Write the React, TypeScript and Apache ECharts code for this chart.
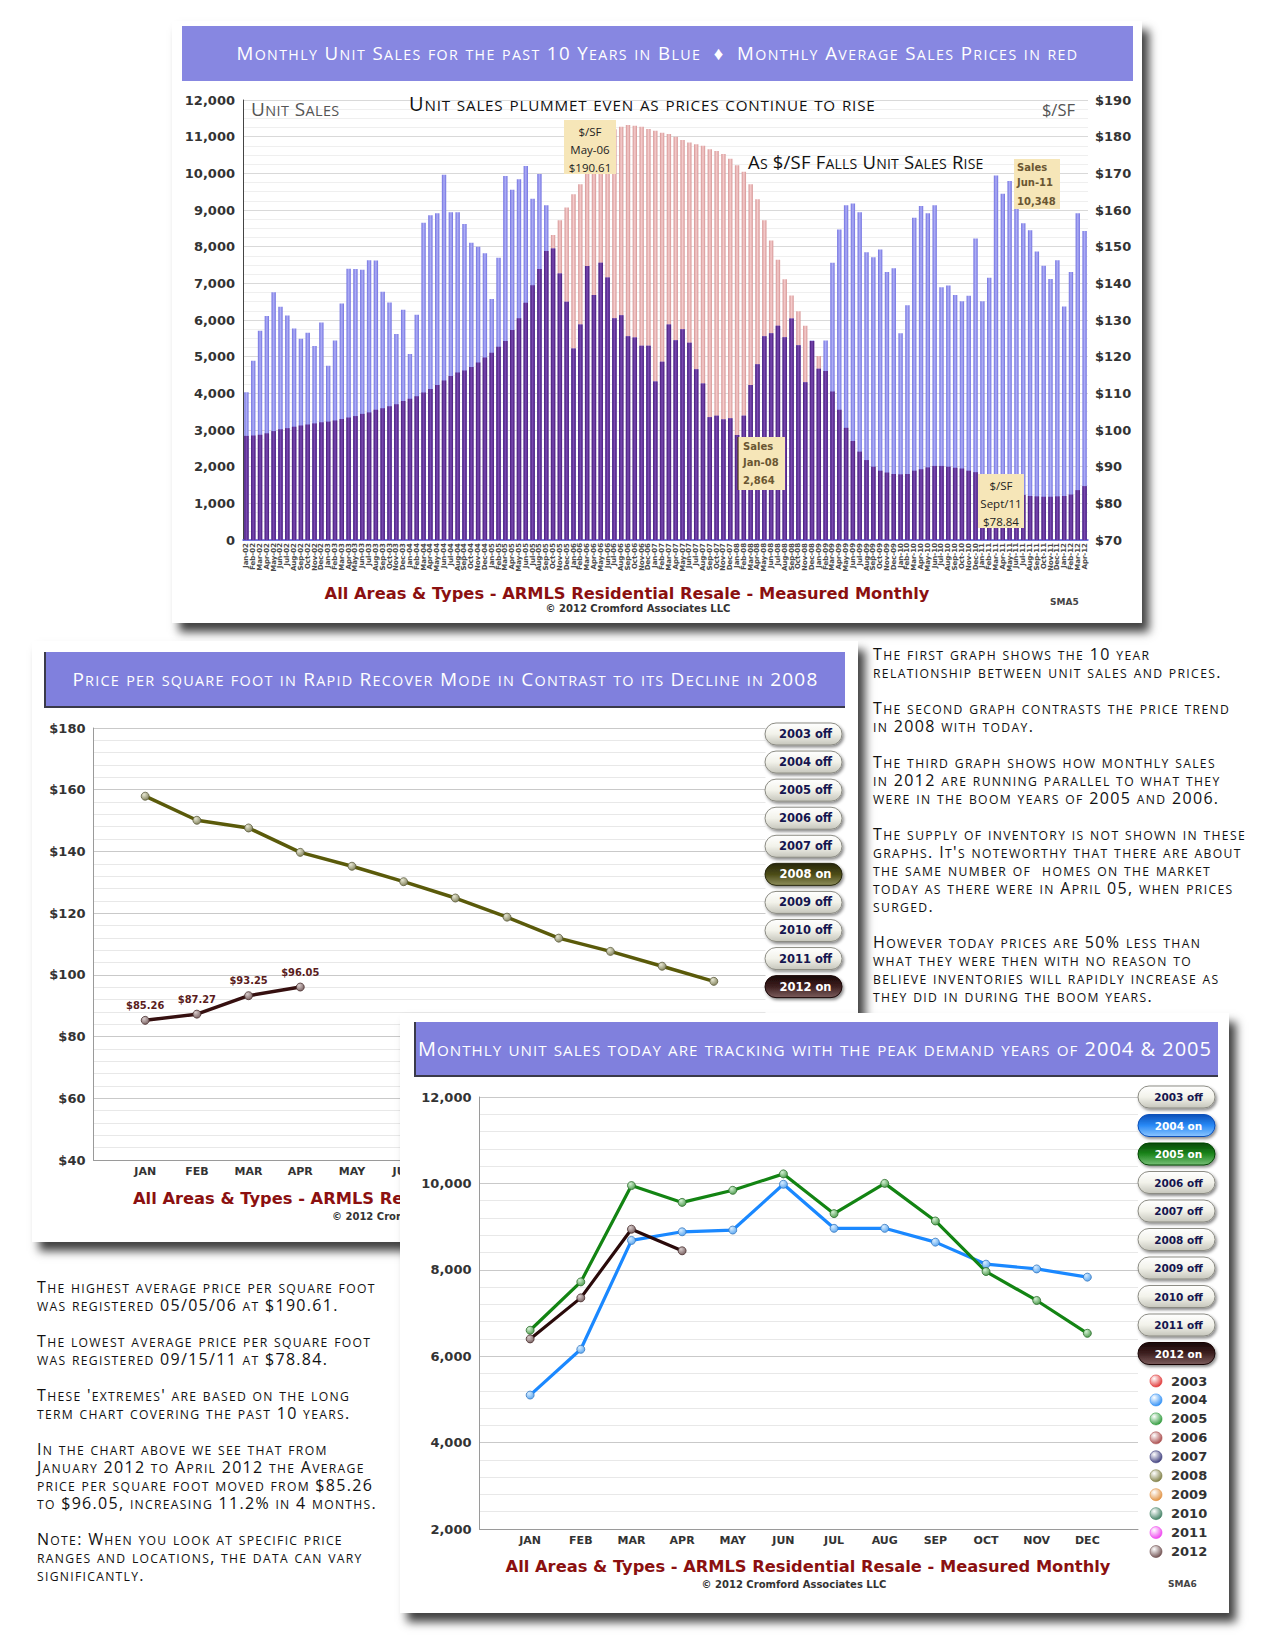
import React, { useEffect, useRef } from "react";
import * as echarts from "echarts";

// ---------------- DATA ----------------
const MONTH_NAMES = ["Jan", "Feb", "Mar", "Apr", "May", "Jun", "Jul", "Aug", "Sep", "Oct", "Nov", "Dec"];
const YEAR_SUFFIXES = ["02", "03", "04", "05", "06", "07", "08", "09", "10", "11", "12"];
const monthCategories = YEAR_SUFFIXES.flatMap((y) => MONTH_NAMES.map((m) => `${m}-${y}`)).slice(0, 124);

const unitSales = [
  4030, 4890, 5710, 6110, 6760, 6360, 6120, 5770, 5490, 5650, 5290, 5930,
  4750, 5440, 6450, 7400, 7390, 7370, 7630, 7620, 6770, 6480, 5620, 6280,
  5070, 6140, 8650, 8860, 8910, 9960, 8940, 8940, 8620, 8110, 8000, 7820,
  6570, 7700, 9930, 9550, 9840, 10200, 9310, 9980, 9130, 7950, 7270, 6500,
  5220, 5880, 7470, 6680, 7560, 7160, 6050, 6130, 5560, 5520, 5300, 5300,
  4320, 4860, 5880, 5450, 5750, 5380, 4660, 4270, 3350, 3390, 3290, 3320,
  2864, 3390, 4230, 4790, 5560, 5640, 5840, 5530, 6040, 5310, 4300, 5440,
  4670, 5440, 7560, 8470, 9130, 9180, 8940, 7850, 7710, 7920, 7310, 7410,
  5640, 6400, 8790, 9110, 8910, 9130, 6890, 6940, 6680, 6510, 6660, 8220,
  6510, 7150, 9940, 9440, 9790, 10348, 8640, 8450, 7870, 7480, 7120, 7630,
  6370, 7310, 8910, 8430,
];

const pricePerSF = [
  98.4, 98.5, 98.7, 99.1, 99.7, 100.2, 100.5, 100.9, 101.2, 101.5, 101.8, 102.1,
  102.3, 102.6, 103.0, 103.4, 103.8, 104.4, 104.8, 105.5, 105.9, 106.5, 107.0, 107.9,
  108.5, 109.2, 110.2, 111.2, 112.3, 113.5, 114.7, 115.7, 116.2, 117.2, 118.4, 119.8,
  121.1, 122.7, 124.3, 127.3, 130.5, 134.7, 139.5, 143.9, 148.8, 153.2, 157.2, 160.7,
  164.3, 167.0, 170.5, 173.8, 176.8, 179.5, 182.0, 182.7, 183.2, 183.0, 182.7, 182.1,
  181.6, 181.1, 180.7, 180.0, 179.1, 178.4, 177.9, 177.5, 176.6, 176.1, 175.3, 174.0,
  172.2, 170.4, 167.0, 162.9, 157.2, 151.7, 146.4, 141.1, 136.7, 132.4, 128.4, 124.3,
  120.2, 116.1, 110.5, 105.5, 100.6, 97.0, 94.1, 91.8, 90.0, 88.9, 88.4, 88.0,
  87.9, 88.0, 88.9, 89.3, 89.8, 90.2, 90.2, 90.0, 89.7, 89.5, 88.9, 88.5,
  87.7, 86.4, 85.0, 84.1, 83.2, 82.7, 82.3, 82.0, 81.9, 81.8, 81.8, 81.9,
  82.0, 82.4, 83.6, 84.7,
];

const MONTH_ABBR = ["JAN", "FEB", "MAR", "APR", "MAY", "JUN", "JUL", "AUG", "SEP", "OCT", "NOV", "DEC"];
const price2008 = [157.9, 150.1, 147.6, 139.7, 135.2, 130.2, 124.9, 118.7, 111.9, 107.6, 102.8, 97.9];
const price2012 = [85.26, 87.27, 93.25, 96.05];

const sales2004 = [5100, 6160, 8680, 8880, 8920, 9980, 8960, 8960, 8640, 8130, 8020, 7830];
const sales2005 = [6600, 7720, 9950, 9560, 9840, 10220, 9300, 10000, 9130, 7960, 7290, 6530];
const sales2012 = [6400, 7350, 8940, 8440];

const priceButtons = ["2003 off", "2004 off", "2005 off", "2006 off", "2007 off", "2008 on", "2009 off", "2010 off", "2011 off", "2012 on"];
const salesButtons = ["2003 off", "2004 on", "2005 on", "2006 off", "2007 off", "2008 off", "2009 off", "2010 off", "2011 off", "2012 on"];
const legendYears = ["2003", "2004", "2005", "2006", "2007", "2008", "2009", "2010", "2011", "2012"];
const legendColors = ["#e03535", "#2f8ff5", "#2e9a3a", "#a84848", "#3c3c7c", "#7e7e44", "#e09040", "#3f7f62", "#ee40ee", "#6e4e4e"];

const rightNotes = [
  ["The first graph shows the 10 year", "relationship between unit sales and prices."],
  ["The second graph contrasts the price trend", "in 2008 with today."],
  ["The third graph shows how monthly sales", "in 2012 are running parallel to what they", "were in the boom years of 2005 and 2006."],
  ["The supply of inventory is not shown in these", "graphs. It's noteworthy that there are about", "the same number of  homes on the market", "today as there were in April 05, when prices", "surged."],
  ["However today prices are 50% less than", "what they were then with no reason to", "believe inventories will rapidly increase as", "they did in during the boom years."],
];
const leftNotes = [
  ["The highest average price per square foot", "was registered 05/05/06 at $190.61."],
  ["The lowest average price per square foot", "was registered 09/15/11 at $78.84."],
  ["These 'extremes' are based on the long", "term chart covering the past 10 years."],
  ["In the chart above we see that from", "January 2012 to April 2012 the Average", "price per square foot moved from $85.26", "to $96.05, increasing 11.2% in 4 months."],
  ["Note: When you look at specific price", "ranges and locations, the data can vary", "significantly."],
];

// ---------------- HELPERS ----------------
const AXIS_FONT = "DejaVu Sans";
const TITLE_RED = "#8b1010";

const hGrad = (edge: string, mid: string) =>
  new echarts.graphic.LinearGradient(0, 0, 1, 0, [
    { offset: 0, color: edge },
    { offset: 0.5, color: mid },
    { offset: 1, color: edge },
  ]);
const vGrad = (stops: string[]) =>
  new echarts.graphic.LinearGradient(
    0, 0, 0, 1,
    stops.map((c, i) => ({ offset: i / (stops.length - 1), color: c }))
  );
const ball = (light: string, dark: string) =>
  new echarts.graphic.RadialGradient(0.35, 0.3, 0.75, [
    { offset: 0, color: light },
    { offset: 1, color: dark },
  ]);

const pad = (arr: number[]) => {
  const out: (number | null)[] = [null];
  for (let i = 0; i < 12; i++) out.push(i < arr.length ? arr[i] : null);
  out.push(null);
  return out;
};

const ON_STYLES: Record<string, string[]> = {
  "2008 on": ["#26260a", "#4c4c18", "#8e8e5c"],
  "2012 on": ["#180606", "#3e2020", "#7c5c5c"],
  "2004 on": ["#0a4fb8", "#2a8af6", "#8cc6ff"],
  "2005 on": ["#064806", "#1c861c", "#78c078"],
};

function makeButtons(labels: string[], x: number, y0: number, step: number, w: number, h: number, fs: number) {
  return labels.map((label, i) => {
    const cy = y0 + i * step;
    const on = ON_STYLES[label];
    return {
      type: "group",
      z: 10,
      children: [
        {
          type: "rect",
          z: 10,
          shape: { x, y: cy - h / 2, width: w, height: h, r: h / 2 },
          style: {
            fill: on ? vGrad(on) : vGrad(["#ffffff", "#f2f2ea", "#c6c6bc"]),
            stroke: on ? on[0] : "#8c8c84",
            lineWidth: 1,
            shadowBlur: 3,
            shadowOffsetX: 1.5,
            shadowOffsetY: 2,
            shadowColor: "rgba(0,0,0,0.45)",
          },
        },
        {
          type: "text",
          z: 11,
          x: x + w / 2 + 2,
          y: cy,
          style: {
            text: label,
            fill: on ? "#ffffff" : "#15154f",
            font: `bold ${fs}px "${AXIS_FONT}"`,
            align: "center",
            verticalAlign: "middle",
            textAlign: "center",
            textVerticalAlign: "middle",
          },
        },
      ],
    };
  });
}

const txt = (x: number, y: number, text: string, font: string, fill: string, align = "left") => ({
  type: "text",
  z: 20,
  x,
  y,
  style: {
    text,
    font,
    fill,
    align,
    verticalAlign: "middle",
    textAlign: align,
    textVerticalAlign: "middle",
  },
});
const box = (x: number, y: number, width: number, height: number) => ({
  type: "rect",
  z: 19,
  shape: { x, y, width, height },
  style: { fill: "#f6e6b8" },
});

// ---------------- OPTIONS ----------------
const overlap = unitSales.map((s, i) => Math.min(s, (pricePerSF[i] - 70) * 100));

const topOption: any = {
  animation: false,
  grid: { left: 71, right: 54, top: 79, bottom: 83 },
  xAxis: {
    type: "category",
    data: monthCategories,
    axisTick: { show: false },
    axisLine: { lineStyle: { color: "#5050e0", width: 1.5 } },
    axisLabel: { rotate: 90, interval: 0, fontSize: 7, fontWeight: "bold", fontFamily: AXIS_FONT, color: "#4a4a4a", margin: 3 },
  },
  yAxis: [
    {
      type: "value",
      min: 0,
      max: 12000,
      interval: 1000,
      axisLine: { show: true, lineStyle: { color: "#444" } },
      axisTick: { show: false },
      axisLabel: {
        formatter: (v: number) => v.toLocaleString("en-US"),
        fontSize: 13,
        fontWeight: "bold",
        fontFamily: AXIS_FONT,
        color: "#333",
        margin: 8,
      },
      splitLine: { lineStyle: { color: "#d9d9d9" } },
      minorTick: { show: false, splitNumber: 4 },
      minorSplitLine: { show: true, lineStyle: { color: "#efefef" } },
    },
    {
      type: "value",
      min: 70,
      max: 190,
      interval: 10,
      position: "right",
      axisLine: { show: false },
      axisTick: { show: false },
      axisLabel: { formatter: "${value}", fontSize: 13, fontWeight: "bold", fontFamily: AXIS_FONT, color: "#333", margin: 7 },
      splitLine: { show: false },
    },
  ],
  series: [
    { type: "bar", yAxisIndex: 1, data: pricePerSF, barWidth: "64%", barGap: "-100%", itemStyle: { color: hGrad("#d69494", "#f4cccc") } },
    { type: "bar", yAxisIndex: 0, data: unitSales, barWidth: "64%", barGap: "-100%", itemStyle: { color: hGrad("#7070e0", "#aeaef5") } },
    { type: "bar", yAxisIndex: 0, data: overlap, barWidth: "64%", barGap: "-100%", itemStyle: { color: hGrad("#461a7a", "#7a4ab2") } },
  ],
  graphic: [
    box(392, 99, 52, 54),
    txt(418, 110, "$/SF", '11.5px "Open Sans"', "#222", "center"),
    txt(418, 128, "May-06", '11.5px "Open Sans"', "#222", "center"),
    txt(418, 146, "$190.61", '11.5px "Open Sans"', "#222", "center"),

    box(566, 416, 47, 53),
    { type: "line", z: 20, shape: { x1: 566, y1: 416, x2: 566, y2: 469 }, style: { stroke: "#4a3418", lineWidth: 1.2 } },
    txt(571, 425, "Sales", `bold 10px "${AXIS_FONT}"`, "#6a5632"),
    txt(571, 441, "Jan-08", `bold 10px "${AXIS_FONT}"`, "#6a5632"),
    txt(571, 459, "2,864", `bold 10px "${AXIS_FONT}"`, "#6a5632"),

    box(842, 138, 46, 50),
    txt(845, 146, "Sales", `bold 10px "${AXIS_FONT}"`, "#6a5632"),
    txt(845, 161, "Jun-11", `bold 10px "${AXIS_FONT}"`, "#6a5632"),
    txt(845, 180, "10,348", `bold 10px "${AXIS_FONT}"`, "#6a5632"),

    box(806, 453, 46, 54),
    txt(829, 464, "$/SF", '11.5px "Open Sans"', "#222", "center"),
    txt(829, 482, "Sept/11", '11.5px "Open Sans"', "#222", "center"),
    txt(829, 500, "$78.84", '11.5px "Open Sans"', "#222", "center"),

    txt(455, 572, "All Areas & Types - ARMLS Residential Resale - Measured Monthly", `bold 16.3px "${AXIS_FONT}"`, TITLE_RED, "center"),
    txt(466, 587, "© 2012 Cromford Associates LLC", `bold 10px "${AXIS_FONT}"`, "#333", "center"),
    txt(878, 581, "SMA5", `bold 9px "${AXIS_FONT}"`, "#444"),
  ],
};

const priceOption: any = {
  animation: false,
  grid: { left: 61.5, right: 92.5, top: 87, bottom: 82 },
  xAxis: {
    type: "category",
    data: ["", ...MONTH_ABBR, ""],
    boundaryGap: false,
    axisTick: { show: false },
    axisLine: { lineStyle: { color: "#9a9a9a" } },
    axisLabel: { interval: 0, fontSize: 11, fontWeight: "bold", fontFamily: AXIS_FONT, color: "#333", margin: 6 },
    splitLine: { show: false },
  },
  yAxis: {
    type: "value",
    min: 40,
    max: 180,
    interval: 20,
    axisLine: { show: true, lineStyle: { color: "#9a9a9a" } },
    axisTick: { show: false },
    axisLabel: { formatter: "${value}", fontSize: 13, fontWeight: "bold", fontFamily: AXIS_FONT, color: "#333", margin: 8 },
    splitLine: { lineStyle: { color: "#c9c9c9" } },
    minorTick: { show: false, splitNumber: 5 },
    minorSplitLine: { show: true, lineStyle: { color: "#e8e8e8" } },
  },
  series: [
    {
      type: "line",
      data: pad(price2008),
      symbol: "circle",
      symbolSize: 8,
      lineStyle: { color: "#5a5a0a", width: 3.5 },
      itemStyle: { color: ball("#e6e6d2", "#84845e"), borderColor: "#5e5e40", borderWidth: 0.8 },
    },
    {
      type: "line",
      data: pad(price2012),
      symbol: "circle",
      symbolSize: 8,
      lineStyle: { color: "#361010", width: 3.5 },
      itemStyle: { color: ball("#d8cccc", "#786060"), borderColor: "#4a3030", borderWidth: 0.8 },
      label: {
        show: true,
        position: "top",
        distance: 5,
        formatter: (p: any) => "$" + Number(p.value).toFixed(2),
        fontSize: 11,
        fontWeight: "bold",
        fontFamily: "DejaVu Sans Condensed",
        color: "#5a1c1c",
      },
    },
  ],
  graphic: [
    ...makeButtons(priceButtons, 733, 93, 28.07, 77, 22, 11.5),
    txt(101, 557, "All Areas & Types - ARMLS Residential Resale - Measured Monthly", `bold 16.3px "${AXIS_FONT}"`, TITLE_RED),
    txt(300, 575, "© 2012 Cromford Associates LLC", `bold 10px "${AXIS_FONT}"`, "#333"),
  ],
};

const salesOption: any = {
  animation: false,
  grid: { left: 79.5, right: 91, top: 84, bottom: 84 },
  xAxis: {
    type: "category",
    data: ["", ...MONTH_ABBR, ""],
    boundaryGap: false,
    axisTick: { show: false },
    axisLine: { lineStyle: { color: "#9a9a9a" } },
    axisLabel: { interval: 0, fontSize: 11, fontWeight: "bold", fontFamily: AXIS_FONT, color: "#333", margin: 6 },
    splitLine: { show: false },
  },
  yAxis: {
    type: "value",
    min: 2000,
    max: 12000,
    interval: 2000,
    axisLine: { show: true, lineStyle: { color: "#9a9a9a" } },
    axisTick: { show: false },
    axisLabel: {
      formatter: (v: number) => v.toLocaleString("en-US"),
      fontSize: 13,
      fontWeight: "bold",
      fontFamily: AXIS_FONT,
      color: "#333",
      margin: 8,
    },
    splitLine: { lineStyle: { color: "#c9c9c9" } },
    minorTick: { show: false, splitNumber: 5 },
    minorSplitLine: { show: true, lineStyle: { color: "#e8e8e8" } },
  },
  series: [
    {
      type: "line",
      data: pad(sales2004),
      symbol: "circle",
      symbolSize: 8,
      lineStyle: { color: "#1a88ff", width: 3.2 },
      itemStyle: { color: ball("#d6ecff", "#5aa6f0"), borderColor: "#3a7ac0", borderWidth: 0.8 },
    },
    {
      type: "line",
      data: pad(sales2005),
      symbol: "circle",
      symbolSize: 8,
      lineStyle: { color: "#138413", width: 3.2 },
      itemStyle: { color: ball("#d4f0d4", "#4e9c4e"), borderColor: "#2e6e2e", borderWidth: 0.8 },
    },
    {
      type: "line",
      data: pad(sales2012),
      symbol: "circle",
      symbolSize: 8,
      lineStyle: { color: "#2a0a0a", width: 3.2 },
      itemStyle: { color: ball("#d8cccc", "#786060"), borderColor: "#4a3030", borderWidth: 0.8 },
    },
  ],
  graphic: [
    ...makeButtons(salesButtons, 738, 84, 28.5, 77, 22, 10.5),
    ...legendYears.flatMap((y, i) => [
      {
        type: "circle",
        z: 10,
        shape: { cx: 756, cy: 368 + i * 18.95, r: 6 },
        style: { fill: ball("#ffffff", legendColors[i]), stroke: legendColors[i], lineWidth: 0.6 },
      },
      txt(771, 368 + i * 18.95, y, `bold 13px "${AXIS_FONT}"`, "#333"),
    ]),
    txt(408, 553, "All Areas & Types - ARMLS Residential Resale - Measured Monthly", `bold 16.3px "${AXIS_FONT}"`, TITLE_RED, "center"),
    txt(394, 571, "© 2012 Cromford Associates LLC", `bold 10px "${AXIS_FONT}"`, "#333", "center"),
    txt(768, 571, "SMA6", `bold 9px "${AXIS_FONT}"`, "#444"),
  ],
};

// ---------------- COMPONENTS ----------------
function EChart({ option, width, height }: { option: any; width: number; height: number }) {
  const ref = useRef<HTMLDivElement>(null);
  useEffect(() => {
    const chart = echarts.init(ref.current!, null, { renderer: "svg" });
    chart.setOption(option);
    return () => chart.dispose();
  }, [option]);
  return <div ref={ref} style={{ position: "absolute", left: 0, top: 0, width, height }} />;
}

// manual small caps: capitals/digits full size, lowercase as reduced capitals
function SmallCaps({ text, ratio = 0.76 }: { text: string; ratio?: number }) {
  const parts = text.match(/[a-z]+|[^a-z]+/g) || [];
  return (
    <span>
      {parts.map((p, i) =>
        /[a-z]/.test(p[0]) ? (
          <span key={i} style={{ fontSize: `${ratio}em` }}>
            {p.toUpperCase()}
          </span>
        ) : (
          <React.Fragment key={i}>{p}</React.Fragment>
        )
      )}
    </span>
  );
}

const SC: React.CSSProperties = {
  position: "absolute",
  fontFamily: '"Open Sans", sans-serif',
  whiteSpace: "pre",
  lineHeight: 1,
  pointerEvents: "none",
};

const SHADOW = "7px 9px 9px rgba(0,0,0,0.75)";

function Notes({ paras, left, top, lineHeight, fontSize, letterSpacing }: any) {
  return (
    <div style={{ ...SC, left, top, fontSize, letterSpacing, lineHeight: `${lineHeight}px`, color: "#111" }}>
      {paras.map((p: string[], i: number) => (
        <div key={i} style={{ marginBottom: lineHeight }}>
          {p.map((l, j) => (
            <div key={j} style={{ height: lineHeight }}>
              <SmallCaps text={l} />
            </div>
          ))}
        </div>
      ))}
    </div>
  );
}

function Label({ text, style }: { text: string; style: React.CSSProperties }) {
  return (
    <div style={{ ...SC, transform: "translateY(-50%)", ...style }}>
      <SmallCaps text={text} />
    </div>
  );
}

const headerBase: React.CSSProperties = {
  ...SC,
  color: "#fff",
  display: "flex",
  alignItems: "center",
};

export default function App() {
  return (
    <div style={{ position: "absolute", left: 0, top: 0, width: 1275, height: 1650, background: "#fff", overflow: "hidden" }}>
      {/* Top panel */}
      <div style={{ position: "absolute", left: 172, top: 21, width: 970, height: 602, background: "#fff", boxShadow: SHADOW, zIndex: 1 }}>
        <EChart option={topOption} width={970} height={602} />
        <div
          style={{
            ...headerBase,
            left: 10,
            top: 5,
            width: 951,
            height: 55,
            background: "#8787e1",
            fontSize: 18.7,
            letterSpacing: 1.38,
            justifyContent: "center",
          }}
        >
          <SmallCaps text={"Monthly Unit Sales for the past 10 Years in Blue  \u2666  Monthly Average Sales Prices in red"} />
        </div>
        <Label text="Unit Sales" style={{ left: 79, top: 88, fontSize: 19, letterSpacing: 0.4, color: "#555" }} />
        <Label text="Unit sales plummet even as prices continue to rise" style={{ left: 237, top: 83, fontSize: 20, letterSpacing: 0.8, color: "#111" }} />
        <Label text="$/SF" style={{ right: 67, top: 89, fontSize: 16.5, color: "#555" }} />
        <Label text="As $/SF Falls Unit Sales Rise" style={{ left: 576, top: 141, fontSize: 18.5, letterSpacing: 0.2, color: "#111" }} />
      </div>

      {/* Right notes */}
      <Notes paras={rightNotes} left={873} top={645} lineHeight={18} fontSize={16} letterSpacing={1.35} />

      {/* Middle panel */}
      <div style={{ position: "absolute", left: 32, top: 641, width: 826, height: 601, background: "#fff", boxShadow: SHADOW, zIndex: 2 }}>
        <EChart option={priceOption} width={826} height={601} />
        <div
          style={{
            ...headerBase,
            left: 12,
            top: 11,
            width: 799,
            height: 54,
            background: "#8080dd",
            borderLeft: "2px solid #3a3a4a",
            borderBottom: "2px solid #3a3a4a",
            fontSize: 19,
            letterSpacing: 1.22,
            justifyContent: "center",
          }}
        >
          <SmallCaps text="Price per square foot in Rapid Recover Mode in Contrast to its Decline in 2008" />
        </div>
      </div>

      {/* Left notes */}
      <Notes paras={leftNotes} left={37} top={1278} lineHeight={18} fontSize={16} letterSpacing={1.3} />

      {/* Bottom panel */}
      <div style={{ position: "absolute", left: 400, top: 1013, width: 829, height: 600, background: "#fff", boxShadow: SHADOW, zIndex: 3 }}>
        <EChart option={salesOption} width={829} height={600} />
        <div
          style={{
            ...headerBase,
            left: 14,
            top: 9,
            width: 800,
            height: 53,
            background: "#8080dd",
            borderLeft: "2px solid #3a3a4a",
            borderBottom: "2px solid #3a3a4a",
            fontSize: 20,
            letterSpacing: 1.0,
            paddingLeft: 2,
          }}
        >
          <SmallCaps text="Monthly unit sales today are tracking with the peak demand years of 2004 & 2005" />
        </div>
      </div>
    </div>
  );
}
